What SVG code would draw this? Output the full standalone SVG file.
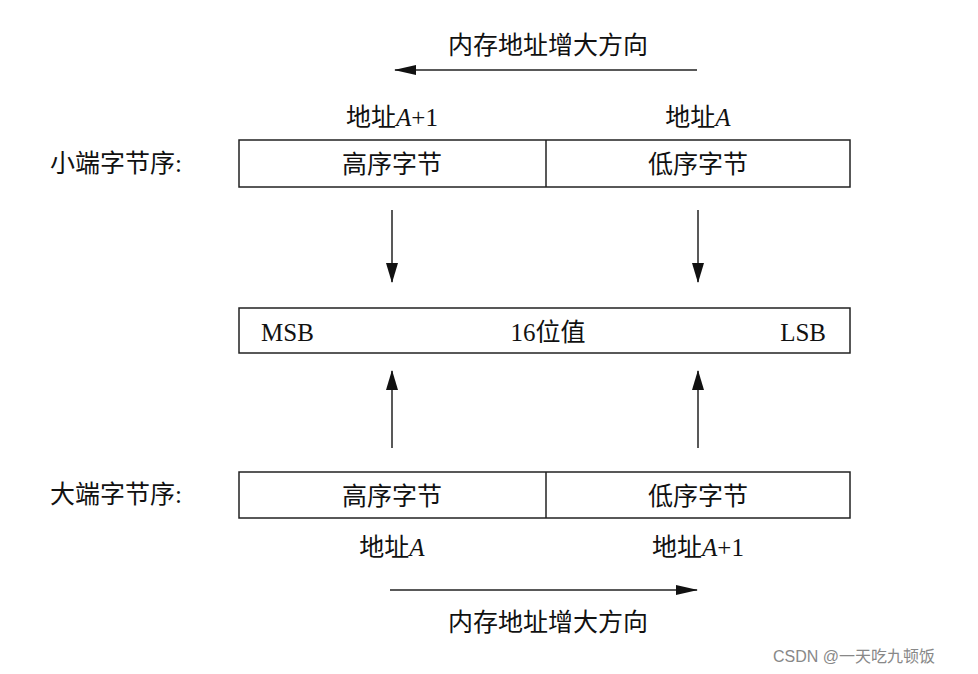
<svg xmlns="http://www.w3.org/2000/svg" width="978" height="674" viewBox="0 0 978 674">
<style>
.t{font-family:"Liberation Serif","Noto Sans CJK SC",serif;font-size:25px;fill:#111}
.i{font-style:italic}
.b{fill:#fff;stroke:#222;stroke-width:1.5}
.c{stroke:#222;stroke-width:1.5;fill:none}
</style>
<defs><marker id="ah" markerWidth="20" markerHeight="12" refX="19" refY="6" orient="auto" markerUnits="userSpaceOnUse"><path d="M0,0L20,6L0,12z" fill="#111"/></marker>
<marker id="ah2" markerWidth="22" markerHeight="10" refX="21" refY="5" orient="auto" markerUnits="userSpaceOnUse"><path d="M0,0L22,5L0,10z" fill="#111"/></marker></defs>
<rect width="978" height="674" fill="#fff"/>
<g id="top-dir"><text class="t" x="548" y="54" text-anchor="middle">内存地址增大方向</text></g>
<g id="little">
<text class="t" x="50" y="172">小端字节序:</text>
<text class="t" x="392" y="126" text-anchor="middle">地址<tspan class="i">A</tspan>+1</text>
<text class="t" x="698" y="126" text-anchor="middle">地址<tspan class="i">A</tspan></text>
<rect class="b" x="239" y="140" width="611" height="47"/>
<line class="c" x1="546" y1="140" x2="546" y2="187"/>
<text class="t" x="392" y="173" text-anchor="middle">高序字节</text>
<text class="t" x="698" y="173" text-anchor="middle">低序字节</text>
</g>
<g id="value">
<rect class="b" x="239" y="308" width="611" height="45"/>
<text class="t" x="261" y="341">MSB</text>
<text class="t" x="548" y="341" text-anchor="middle">16位值</text>
<text class="t" x="826" y="341" text-anchor="end">LSB</text>
</g>
<g id="big">
<text class="t" x="50" y="503">大端字节序:</text>
<rect class="b" x="239" y="472" width="611" height="46"/>
<line class="c" x1="546" y1="472" x2="546" y2="518"/>
<text class="t" x="392" y="505" text-anchor="middle">高序字节</text>
<text class="t" x="698" y="505" text-anchor="middle">低序字节</text>
<text class="t" x="392" y="556" text-anchor="middle">地址<tspan class="i">A</tspan></text>
<text class="t" x="698" y="556" text-anchor="middle">地址<tspan class="i">A</tspan>+1</text>
</g>
<g id="bottom-dir"><text class="t" x="548" y="631" text-anchor="middle">内存地址增大方向</text></g>
<g id="connectors">
<line class="c" x1="697" y1="70" x2="395" y2="70" stroke-width="1" marker-end="url(#ah2)"/>
<line class="c" x1="390" y1="590" x2="697" y2="590" stroke-width="1" marker-end="url(#ah2)"/>
<line class="c" x1="392" y1="210" x2="392" y2="282" marker-end="url(#ah)"/>
<line class="c" x1="698" y1="210" x2="698" y2="282" marker-end="url(#ah)"/>
<line class="c" x1="392" y1="448" x2="392" y2="371" marker-end="url(#ah)"/>
<line class="c" x1="698" y1="448" x2="698" y2="371" marker-end="url(#ah)"/>
</g>
<text x="773" y="662" font-family="Liberation Sans,Noto Sans CJK SC,sans-serif" font-size="16" fill="#888">CSDN @一天吃九顿饭</text>
</svg>
